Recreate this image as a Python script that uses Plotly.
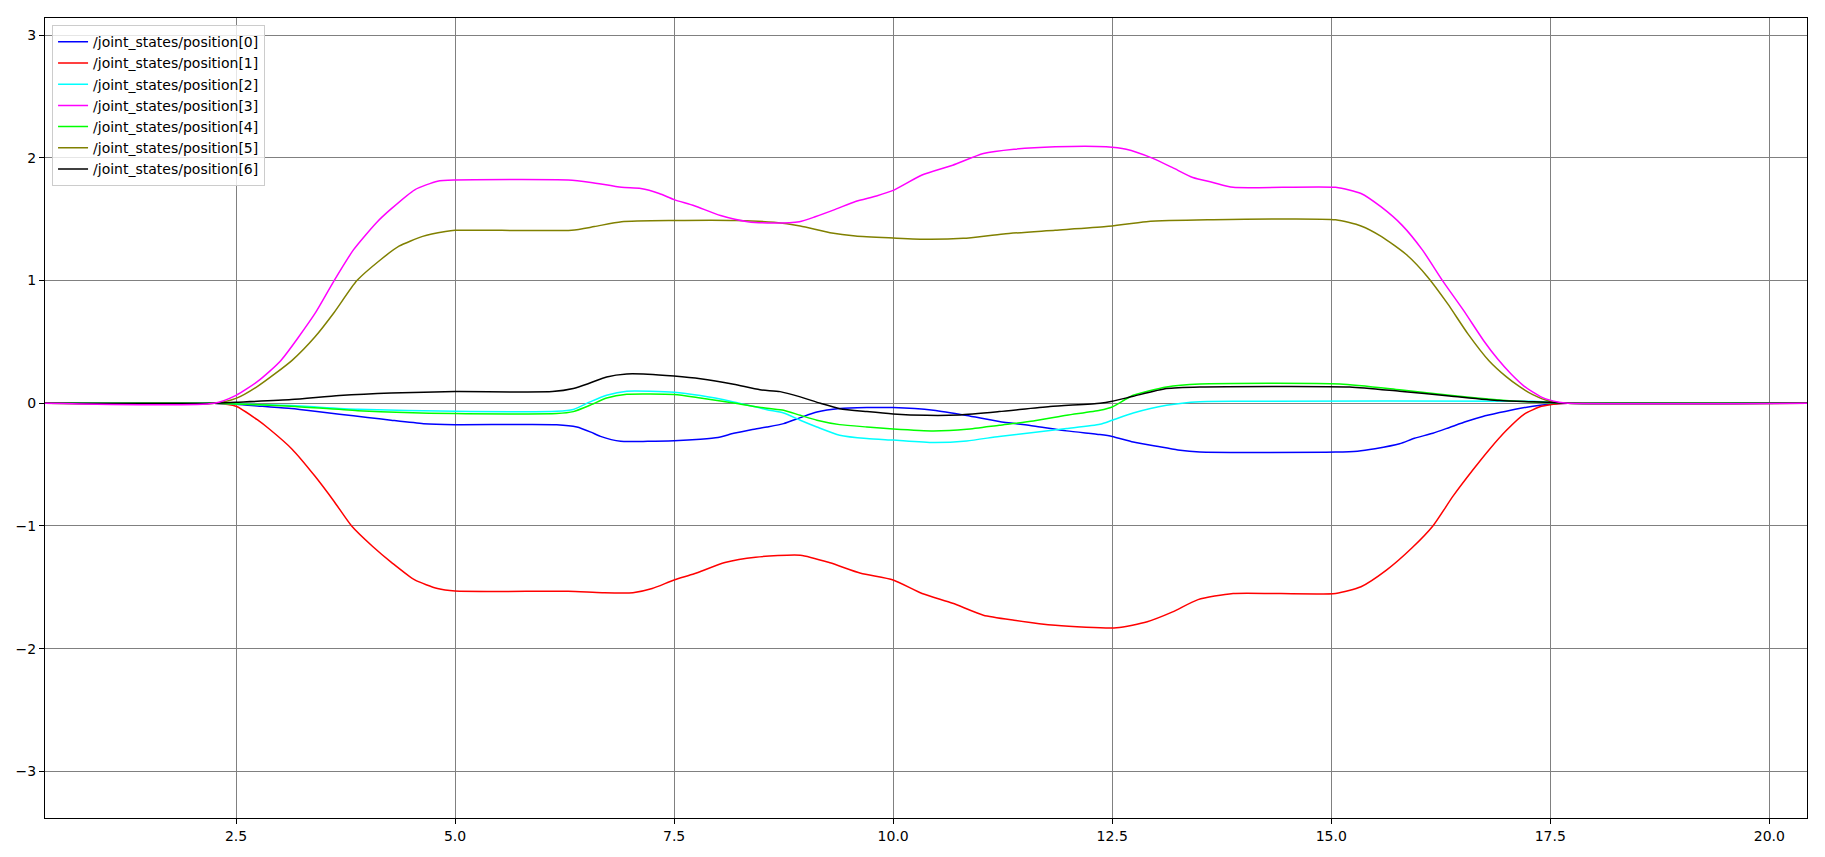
# Tracé des positions des articulations (/joint_states)
import plotly.graph_objs as go

# Données : temps (s) et position (rad) pour chaque articulation
t0 = [0.3, 2.25, 2.5, 2.8, 3.13, 3.4, 3.68, 4.0, 4.27, 4.64, 5.0, 6.16, 6.39, 6.55, 6.66, 6.89, 7.2, 7.5, 7.8,
      8.0, 8.18, 8.38, 8.56, 8.75, 8.94, 9.13, 9.39, 9.7, 10.0, 10.46, 10.84, 11.21, 11.6, 11.98, 12.36, 12.5,
      12.74, 13.01, 13.25, 13.5, 15.05, 15.3, 15.5, 15.78, 15.95, 16.16, 16.35, 16.54, 16.73, 16.92, 17.1, 17.3,
      17.5, 17.7, 20.45]
pos0 = [0, 0, -0.008, -0.025, -0.043, -0.065, -0.09, -0.115, -0.138, -0.166, -0.174, -0.174, -0.193, -0.235,
        -0.27, -0.31, -0.31, -0.305, -0.293, -0.279, -0.245, -0.215, -0.193, -0.166, -0.117, -0.071, -0.043,
        -0.035, -0.035, -0.057, -0.1, -0.149, -0.185, -0.225, -0.255, -0.27, -0.315, -0.35, -0.38, -0.397,
        -0.397, -0.39, -0.37, -0.33, -0.285, -0.244, -0.197, -0.149, -0.108, -0.076, -0.048, -0.025, -0.008, 0, 0]

t1 = [0.3, 2.25, 2.5, 2.75, 2.88, 3.14, 3.4, 3.62, 3.82, 4.06, 4.28, 4.54, 4.8, 5.0, 6.29, 6.68, 7.03, 7.25,
      7.5, 7.73, 8.08, 8.43, 8.94, 9.28, 9.63, 10.0, 10.33, 10.68, 11.03, 11.38, 11.85, 12.55, 12.9, 13.19,
      13.48, 13.88, 15.05, 15.34, 15.63, 15.92, 16.16, 16.39, 16.62, 16.8, 17.0, 17.2, 17.4, 17.6, 17.7, 20.45]
pos1 = [0, 0, -0.024, -0.138, -0.21, -0.374, -0.593, -0.8, -1.0, -1.167, -1.3, -1.44, -1.51, -1.53, -1.533,
        -1.544, -1.544, -1.51, -1.44, -1.39, -1.298, -1.254, -1.238, -1.3, -1.385, -1.44, -1.55, -1.63, -1.727,
        -1.768, -1.81, -1.83, -1.78, -1.7, -1.6, -1.55, -1.55, -1.495, -1.36, -1.18, -1.0, -0.757, -0.54, -0.38,
        -0.22, -0.09, -0.025, -0.003, 0, 0]

t2 = [0.3, 2.25, 2.5, 3.13, 3.89, 5.0, 6.16, 6.35, 6.54, 6.73, 6.96, 7.5, 7.8, 8.18, 8.56, 8.75, 8.94, 9.13,
      9.39, 9.7, 10.0, 10.46, 10.84, 11.21, 11.6, 11.98, 12.36, 12.5, 12.74, 13.12, 13.5, 14.0, 17.3, 17.6,
      17.7, 20.45]
pos2 = [0, 0, -0.005, -0.019, -0.049, -0.065, -0.065, -0.05, 0.011, 0.065, 0.098, 0.09, 0.063, 0.011, -0.052,
        -0.079, -0.138, -0.193, -0.26, -0.288, -0.3, -0.32, -0.307, -0.27, -0.239, -0.206, -0.171, -0.138,
        -0.079, -0.016, 0.013, 0.016, 0.016, 0.005, 0, 0]

t3 = [0.3, 2.25, 2.5, 2.75, 3.01, 3.4, 3.62, 3.84, 4.1, 4.28, 4.54, 4.8, 5.0, 6.29, 6.55, 6.9, 7.12, 7.33, 7.5,
      7.73, 8.03, 8.34, 8.64, 8.93, 9.11, 9.34, 9.57, 9.81, 10.0, 10.33, 10.68, 11.03, 11.38, 11.85, 12.43,
      12.66, 12.95, 13.19, 13.42, 13.65, 13.88, 15.05, 15.34, 15.57, 15.81, 16.04, 16.27, 16.51, 16.74, 16.9,
      17.05, 17.2, 17.4, 17.6, 17.7, 20.45]
pos3 = [0, 0, 0.065, 0.18, 0.347, 0.73, 1.0, 1.25, 1.47, 1.59, 1.74, 1.81, 1.82, 1.82, 1.8, 1.76, 1.75, 1.71,
        1.66, 1.61, 1.53, 1.48, 1.47, 1.48, 1.52, 1.58, 1.645, 1.69, 1.735, 1.86, 1.94, 2.035, 2.07, 2.09, 2.09,
        2.07, 2.0, 1.92, 1.84, 1.8, 1.76, 1.76, 1.71, 1.6, 1.45, 1.25, 1.0, 0.757, 0.51, 0.36, 0.24, 0.14,
        0.05, 0.008, 0, 0]

t4 = [0.3, 2.25, 2.5, 3.13, 3.89, 5.0, 6.16, 6.35, 6.54, 6.73, 6.96, 7.5, 7.8, 8.18, 8.56, 8.75, 8.94, 9.13,
      9.39, 9.7, 10.0, 10.46, 10.84, 11.21, 11.6, 11.98, 12.36, 12.5, 12.74, 13.12, 13.5, 15.1, 15.78, 16.35,
      16.92, 17.3, 17.49, 17.7, 20.45]
pos4 = [0, 0, -0.005, -0.024, -0.06, -0.084, -0.084, -0.068, -0.016, 0.043, 0.073, 0.071, 0.043, 0.003, -0.041,
        -0.057, -0.098, -0.138, -0.174, -0.193, -0.209, -0.225, -0.212, -0.179, -0.144, -0.098, -0.057, -0.03,
        0.065, 0.133, 0.157, 0.157, 0.11, 0.065, 0.027, 0.01, 0.005, 0, 0]

t5 = [0.3, 2.25, 2.5, 2.75, 3.14, 3.4, 3.62, 3.88, 4.15, 4.36, 4.63, 4.89, 5.0, 6.33, 6.59, 6.9, 7.5, 8.21,
      8.64, 8.94, 9.28, 9.57, 10.0, 10.39, 10.8, 11.26, 11.85, 12.43, 12.89, 13.59, 15.05, 15.34, 15.57, 15.86,
      16.1, 16.33, 16.56, 16.8, 17.0, 17.15, 17.3, 17.5, 17.7, 20.45]
pos5 = [0, 0, 0.04, 0.14, 0.35, 0.54, 0.74, 1.0, 1.17, 1.28, 1.36, 1.4, 1.41, 1.41, 1.44, 1.48, 1.49, 1.49,
        1.475, 1.445, 1.39, 1.363, 1.347, 1.336, 1.344, 1.38, 1.41, 1.44, 1.48, 1.495, 1.495, 1.445, 1.36,
        1.21, 1.03, 0.81, 0.566, 0.347, 0.215, 0.135, 0.07, 0.015, 0, 0]

t6 = [0.3, 2.25, 2.5, 3.13, 3.68, 4.27, 5.0, 6.11, 6.35, 6.54, 6.73, 6.96, 7.2, 7.5, 7.8, 8.18, 8.48, 8.71,
      8.94, 9.17, 9.39, 9.7, 10.0, 10.38, 10.76, 11.21, 11.79, 12.36, 12.5, 12.74, 13.12, 13.5, 15.21, 15.78,
      16.35, 16.92, 17.49, 17.7, 20.45]
pos6 = [0, 0, 0.008, 0.03, 0.063, 0.084, 0.095, 0.095, 0.12, 0.165, 0.215, 0.239, 0.237, 0.222, 0.2, 0.155,
        0.11, 0.095, 0.052, 0.0, -0.044, -0.068, -0.087, -0.098, -0.095, -0.068, -0.027, 0.0, 0.016, 0.057,
        0.12, 0.133, 0.133, 0.098, 0.06, 0.022, 0.008, 0, 0]

noms = ["/joint_states/position[%d]" % i for i in range(7)]
couleurs = ["#0000ff", "#ff0000", "#00ffff", "#ff00ff", "#00ff00", "#808000", "#000000"]
series = [(t0, pos0), (t1, pos1), (t2, pos2), (t3, pos3), (t4, pos4), (t5, pos5), (t6, pos6)]

x_ticks = [2.5, 5.0, 7.5, 10.0, 12.5, 15.0, 17.5, 20.0]
y_ticks = [-3, -2, -1, 0, 1, 2, 3]

# La courbe [3] est dessinée en dernier (elle recouvre les autres à zéro), legendrank garde l'ordre
ordre = [0, 1, 2, 4, 5, 6, 3]
traces = []
for i in ordre:
    t, pos = series[i]
    traces.append(go.Scatter(
        x=t,
        y=pos,
        name=noms[i],
        mode='lines',
        line=dict(color=couleurs[i], width=1.5, shape='spline', smoothing=0.6),
        legendrank=i
    ))

fig = go.Figure(traces)

axe = dict(
    showline=True, mirror=True, linecolor='black', linewidth=1,
    ticks='outside', ticklen=5, tickcolor='black',
    showgrid=True, gridcolor='#808080', gridwidth=1,
    zeroline=False, automargin=False,
    tickfont=dict(family='DejaVu Sans', size=14, color='black'),
)

# La page ajoute une marge de 8 px autour du graphique
fig.update_layout(
    width=1809, height=841,
    margin=dict(l=37, r=10, t=10, b=31),
    paper_bgcolor='white', plot_bgcolor='white',
    showlegend=True,
    legend=dict(
        x=0.004, y=0.991, xanchor='left', yanchor='top',
        bgcolor='rgba(255,255,255,0.8)', bordercolor='#cccccc', borderwidth=1,
        font=dict(family='DejaVu Sans', size=14, color='black'),
        tracegroupgap=0,
    ),
    xaxis=dict(axe, range=[0.32, 20.43], tickvals=x_ticks, tickformat='.1f'),
    yaxis=dict(axe, range=[-3.38, 3.14], tickvals=y_ticks),
)

fig.write_html("out.html")
